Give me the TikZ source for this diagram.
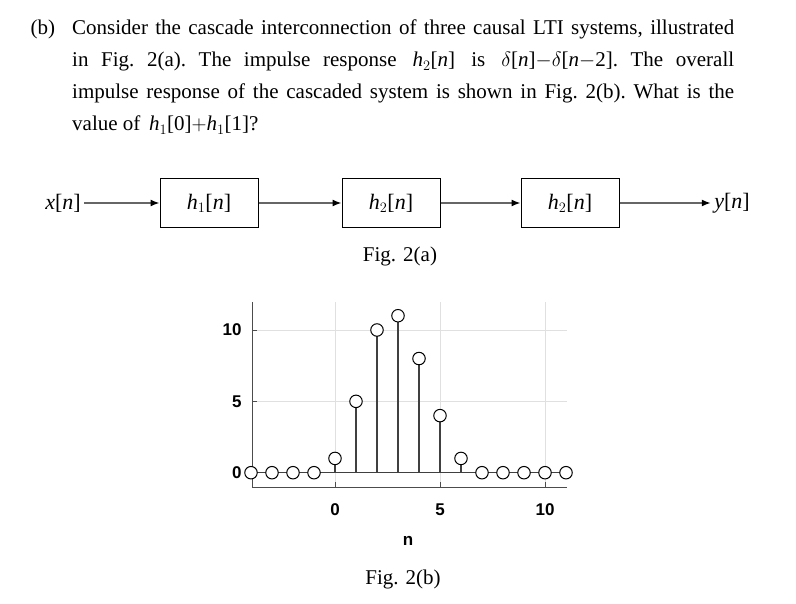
\documentclass[tikz,border=0pt]{standalone}
\usepackage{fontspec}
\setmainfont{Liberation Serif}
\setsansfont{Liberation Sans}
\usetikzlibrary{arrows.meta}
\newcommand{\iv}[1]{\textit{#1}}
\begin{document}
\begin{tikzpicture}[x=1pt,y=-1pt,
  blk/.style={draw,line width=1pt,minimum width=98pt,minimum height=49pt,inner sep=0pt,font=\fontsize{22}{24}\selectfont},
  sig/.style={draw=black!60,line width=1.4pt,-{Latex[length=9pt,width=7pt,black]}},
  tk/.style={font=\sffamily\bfseries\fontsize{17}{18}\selectfont},
  mk/.style={draw,line width=1pt,fill=white,circle,inner sep=0pt,minimum size=12.5pt}]
\useasboundingbox (0,0) rectangle (796,604);
\node[anchor=base west,font=\fontsize{21}{24}\selectfont] (lb) at (27,35) {(b)};
\node[anchor=north west,text width=662pt,align=justify,inner sep=0pt,font=\fontsize{21}{32}\selectfont] (para) at (72,20)
{\frenchspacing Consider the cascade interconnection of three causal LTI systems, illustrated\linebreak in Fig.~2(a). The impulse response \,\iv{h}$_2$[\iv{n}]\, is \,$\delta$[\iv{n}]$-\delta$[\iv{n}$-$2]. The overall\linebreak impulse response of the cascaded system is shown in Fig.~2(b). What is the\linebreak value of \,\iv{h}$_1$[0]$+$\iv{h}$_1$[1]?};
\node[font=\fontsize{22}{24}\selectfont] (x) at (63,203) {\iv{x}[\iv{n}]};
\node[blk] (b1) at (209,203) {\iv{h}$_1$[\iv{n}]};
\node[blk] (b2) at (391,203) {\iv{h}$_2$[\iv{n}]};
\node[blk] (b3) at (570,203) {\iv{h}$_2$[\iv{n}]};
\node[font=\fontsize{22}{24}\selectfont] (y) at (732,203) {\iv{y}[\iv{n}]};
\draw[sig] (x) -- (b1);
\draw[sig] (b1) -- (b2);
\draw[sig] (b2) -- (b3);
\draw[sig] (b3) -- (y);
\node[font=\fontsize{21}{24}\selectfont] (fa) at (400,256) {Fig. 2(a)};
% plot
\foreach \v in {5,10} \draw[black!12,line width=0.8pt] (252,{472.7-14.27*\v}) -- (567,{472.7-14.27*\v});
\foreach \n in {0,5,10} \draw[black!12,line width=0.8pt] ({335+21*\n},302) -- ({335+21*\n},487);
\draw[black!70,line width=0.9pt] (252,302) -- (252,487) -- (567,487);
\foreach \v in {0,5,10} \draw[black!70,line width=0.9pt] (252,{472.7-14.27*\v}) -- (257,{472.7-14.27*\v});
\foreach \n in {0,5,10} \draw[black!70,line width=0.9pt] ({335+21*\n},487) -- ({335+21*\n},482);
\node[tk,anchor=east] (t10) at (245,330) {10};
\node[tk,anchor=east] (t5) at (245,401.4) {5};
\node[tk,anchor=east] (t0) at (245,472.7) {0};
\node[tk] (n0) at (335,510) {0};
\node[tk] (n5) at (440,510) {5};
\node[tk] (n10) at (545,510) {10};
\node[tk] (nl) at (408,541) {n};
\draw[black!75,line width=1.2pt] (252,472.7) -- (567,472.7);
\foreach \n/\v in {-4/0,-3/0,-2/0,-1/0,0/1,1/5,2/10,3/11,4/8,5/4,6/1,7/0,8/0,9/0,10/0,11/0}{
  \draw[black!75,line width=1.2pt] ({335+21*\n},472.7) -- ({335+21*\n},{472.7-14.27*\v});
  \node[mk] at ({335+21*\n},{472.7-14.27*\v}) {};
}
\node[font=\fontsize{21}{24}\selectfont] (fb) at (403,579) {Fig. 2(b)};
\end{tikzpicture}
\end{document}
